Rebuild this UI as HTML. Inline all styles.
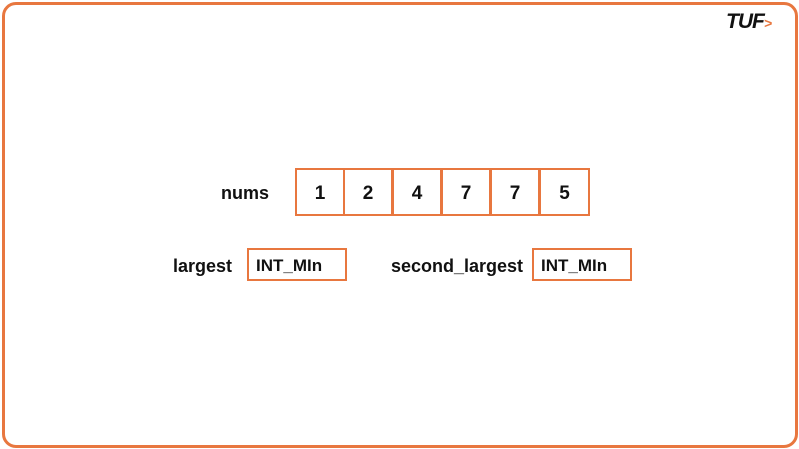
<!DOCTYPE html>
<html><head><style>
body{margin:0;width:799px;height:449px;background:#fff;font-family:"Liberation Sans",sans-serif;font-weight:bold;color:#111;position:relative;overflow:hidden}
.frame{position:absolute;left:2px;top:2px;width:790px;height:440px;border:3px solid #e8773f;border-radius:14px}
.b{position:absolute;border:2px solid #e8773f;box-sizing:border-box;display:flex;align-items:center;justify-content:center}
.c{padding-top:4px;font-size:19px;height:48px;top:168px}
.t{position:absolute;font-size:18px}
</style></head><body>
<div class="frame"></div>
<div class="t" style="left:726px;top:10px;font-size:21px;font-style:italic;font-weight:900;letter-spacing:-1px">TUF<span style="color:#e8773f;font-size:14px">&gt;</span></div>
<div class="t" style="left:221px;top:183px">nums</div>
<div class="b c" style="left:295px;width:50px">1</div>
<div class="b c" style="left:343px;width:50px">2</div>
<div class="b c" style="left:392px;width:50px">4</div>
<div class="b c" style="left:441px;width:50px">7</div>
<div class="b c" style="left:490px;width:50px">7</div>
<div class="b c" style="left:539px;width:51px">5</div>
<div class="t" style="left:173px;top:256px">largest</div>
<div class="b" style="left:247px;top:248px;width:100px;height:33px;font-size:17px;justify-content:flex-start;padding-left:7px;padding-top:3px">INT_MIn</div>
<div class="t" style="left:391px;top:256px">second_largest</div>
<div class="b" style="left:532px;top:248px;width:100px;height:33px;font-size:17px;justify-content:flex-start;padding-left:7px;padding-top:3px">INT_MIn</div>
</body></html>
